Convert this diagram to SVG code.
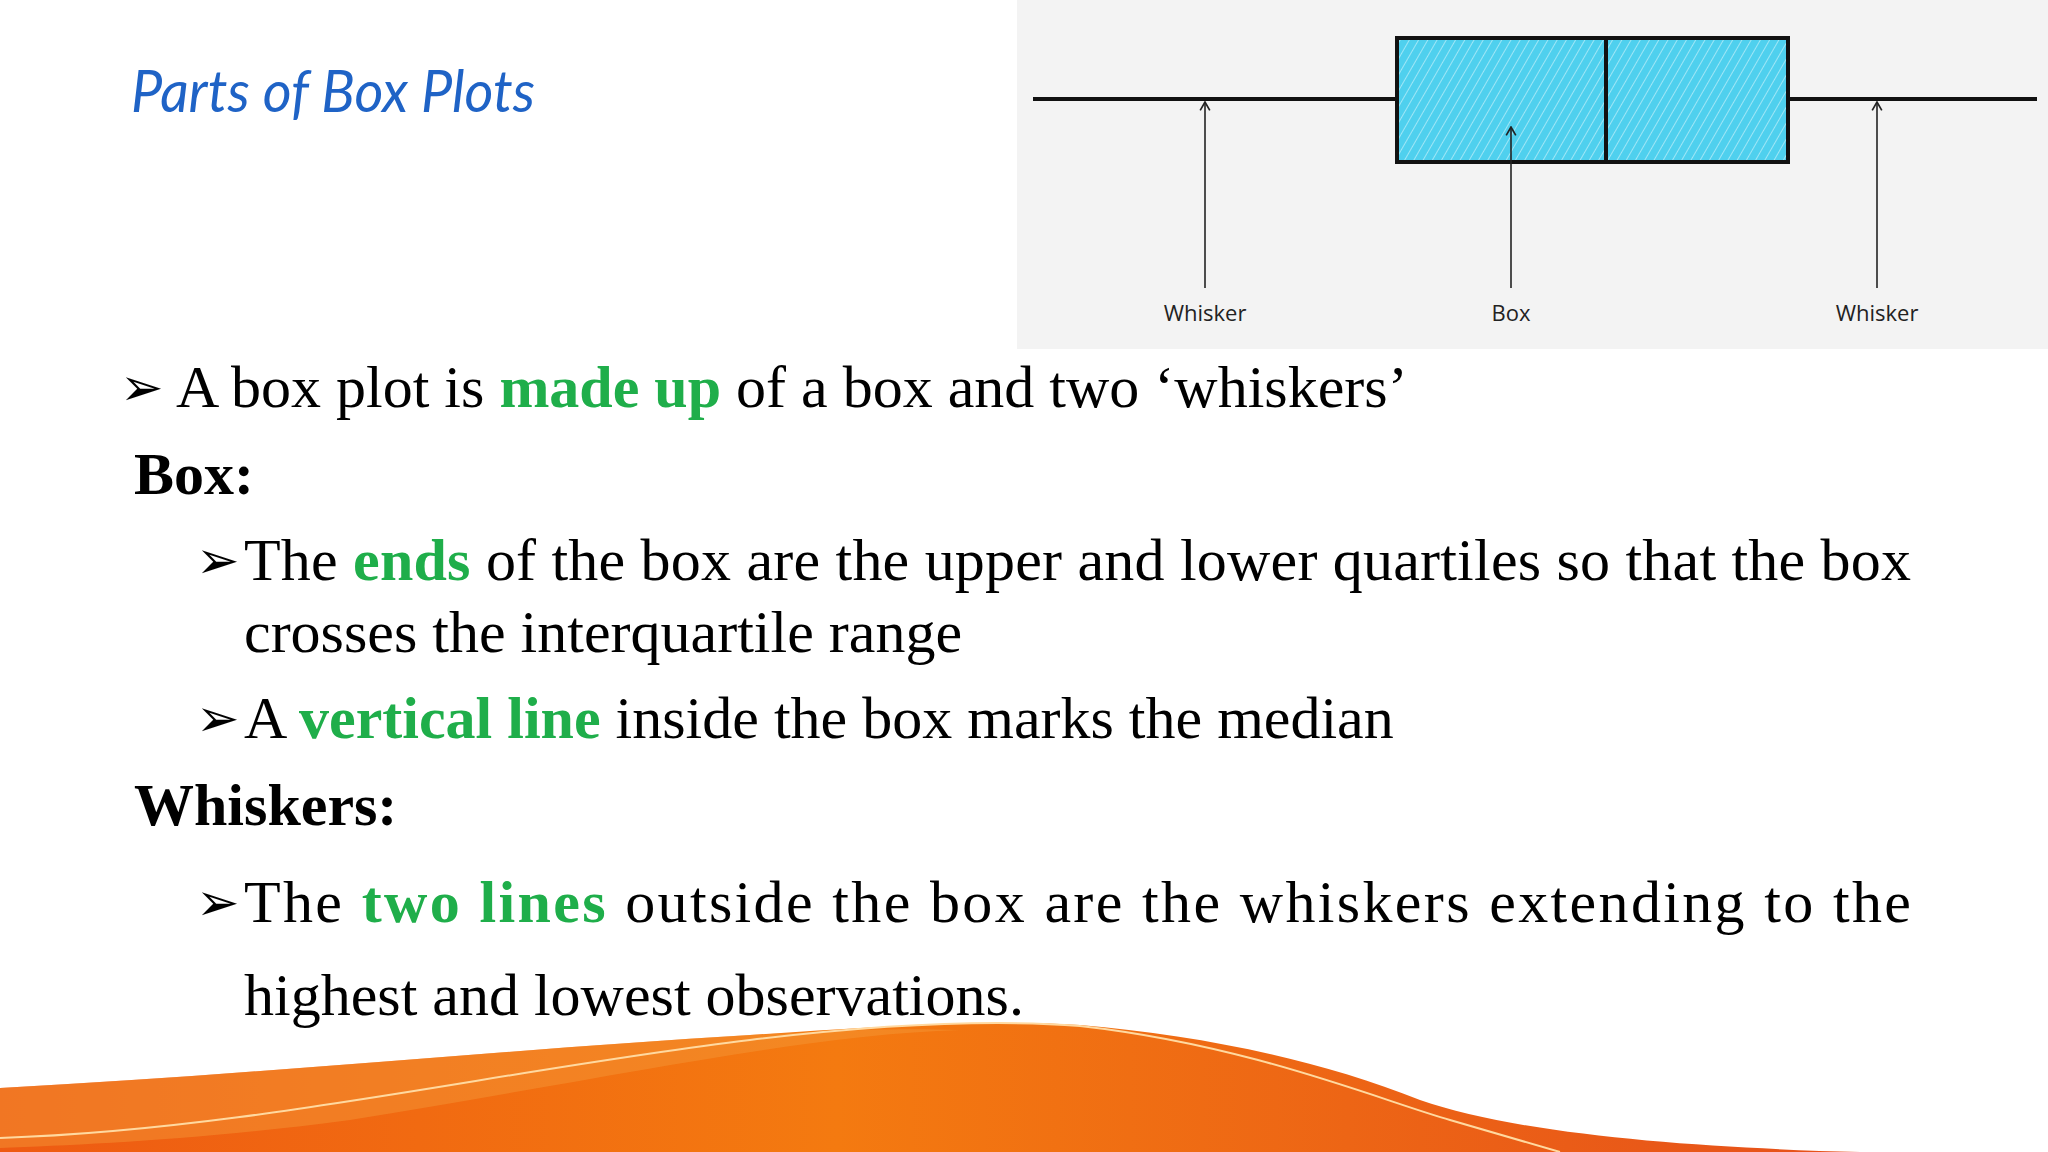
<svg xmlns="http://www.w3.org/2000/svg" width="2048" height="1152" viewBox="0 0 2048 1152">
<style>
.t{font-family:"Liberation Serif",serif;font-size:60px;fill:#000}
.g{fill:#1fae4a;font-weight:bold}
.b{font-weight:bold}
.bl{font-family:"DejaVu Sans",sans-serif;font-size:52px;font-weight:bold}
.lab{font-family:"Open Sans","Liberation Sans",sans-serif;font-size:22px;fill:#222;text-anchor:middle}
.ar{stroke:#222;stroke-width:1.6;fill:none}
</style>
<defs>
<pattern id="hatch" width="8" height="8" patternUnits="userSpaceOnUse" patternTransform="rotate(30)">
<rect width="8" height="8" fill="#4fd0ee"/><line x1="0" y1="0" x2="0" y2="8" stroke="#9fe6f6" stroke-width="2"/>
</pattern>
<marker id="ah" viewBox="0 0 10 10" refX="9" refY="5" markerWidth="12" markerHeight="12" markerUnits="userSpaceOnUse" orient="auto">
<path d="M2 1 L9 5 L2 9" fill="none" stroke="#222" stroke-width="1.4"/></marker>
<linearGradient id="og" x1="0" y1="0" x2="1" y2="0"><stop offset="0" stop-color="#ee5a12"/><stop offset="0.45" stop-color="#f47a10"/><stop offset="1" stop-color="#e6501a"/></linearGradient>
</defs>
<rect width="2048" height="1152" fill="#fff"/>
<text x="131" y="112" font-family="Lato,'Noto Sans',sans-serif" font-style="italic" font-size="58" fill="#1f63c6" textLength="404" lengthAdjust="spacingAndGlyphs">Parts of Box Plots</text>
<g id="plot">
<rect x="1017" y="0" width="1031" height="349" fill="#f3f3f3"/>
<line x1="1033" y1="99" x2="2037" y2="99" stroke="#111" stroke-width="4"/>
<rect x="1397" y="38" width="391" height="124" fill="url(#hatch)" stroke="#111" stroke-width="4"/>
<line x1="1606" y1="38" x2="1606" y2="162" stroke="#111" stroke-width="4"/>
</g>
<g id="connectors">
<line class="ar" x1="1205" y1="288" x2="1205" y2="102" marker-end="url(#ah)"/>
<line class="ar" x1="1511" y1="288" x2="1511" y2="127" marker-end="url(#ah)"/>
<line class="ar" x1="1877" y1="288" x2="1877" y2="102" marker-end="url(#ah)"/>
</g>
<g id="labels">
<text class="lab" x="1205" y="321">Whisker</text>
<text class="lab" x="1511" y="321">Box</text>
<text class="lab" x="1877" y="321">Whisker</text>
</g>
<g id="body">
<text class="bl" x="120" y="405">➢</text>
<text class="t" x="176" y="407">A box plot is <tspan class="g">made up</tspan> of a box and two ‘whiskers’</text>
<text class="t b" x="134" y="494">Box:</text>
<text class="bl" x="196" y="578">➢</text>
<text class="t" x="244" y="580" textLength="1667" lengthAdjust="spacing">The <tspan class="g">ends</tspan> of the box are the upper and lower quartiles so that the box</text>
<text class="t" x="244" y="652">crosses the interquartile range</text>
<text class="bl" x="196" y="736">➢</text>
<text class="t" x="244" y="738">A <tspan class="g">vertical line</tspan> inside the box marks the median</text>
<text class="t b" x="134" y="825">Whiskers:</text>
<text class="bl" x="196" y="920">➢</text>
<text class="t" x="244" y="922" textLength="1667" lengthAdjust="spacing">The <tspan class="g">two lines</tspan> outside the box are the whiskers extending to the</text>
<text class="t" x="244" y="1015">highest and lowest observations.</text>
</g>
<g id="wave">
<path d="M0 1088 C250 1075 500 1050 750 1035 C900 1025 1000 1020 1080 1025 C1200 1035 1320 1060 1420 1100 C1520 1135 1700 1148 1860 1152 L0 1152 Z" fill="url(#og)"/>
<path d="M0 1088 C250 1075 500 1050 750 1035 C850 1030 900 1028 960 1030 C800 1035 600 1080 350 1120 C200 1140 80 1145 0 1148 Z" fill="#f59a3a" opacity="0.45"/>
<path d="M0 1138 C250 1130 500 1070 750 1040 C900 1022 1000 1020 1080 1026 C1250 1045 1380 1100 1450 1120 L1560 1152" fill="none" stroke="#ffd9a0" stroke-width="2"/>
</g>
</svg>
